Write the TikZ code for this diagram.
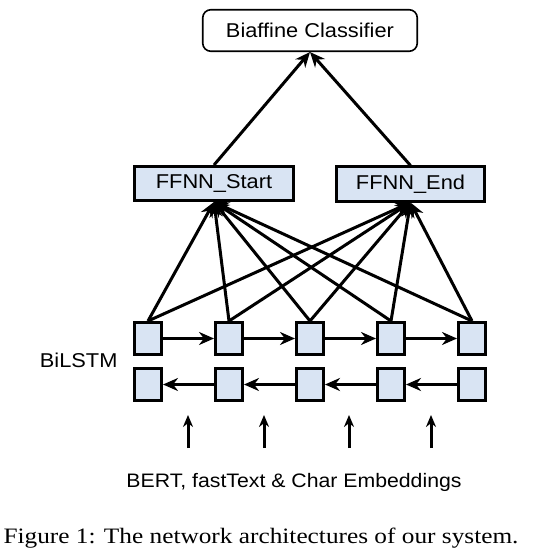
\documentclass[tikz,border=0pt]{standalone}
\usepackage{fontspec}
\setmainfont{Liberation Sans}[FakeStretch=1.09]
\newfontfamily\captionserif{Liberation Serif}[FakeStretch=1.15]
\usetikzlibrary{arrows.meta}
\definecolor{cellblue}{RGB}{217,228,243}

\begin{document}
\begin{tikzpicture}[x=1pt,y=-1pt,
  font=\fontsize{20}{24}\selectfont,
  cell/.style={draw, line width=3pt, fill=cellblue, minimum width=27pt, minimum height=32pt, inner sep=0pt},
  ffnn/.style={draw, line width=3pt, fill=cellblue, minimum height=34pt, inner sep=0pt},
  arr/.style={line width=3pt, -{Stealth[length=15pt,width=13pt]}}]
\useasboundingbox (0,0) rectangle (540,553);
% classifier and the two feed-forward layers
\node[draw, line width=1.6pt, rounded corners=8pt, minimum width=214.5pt, minimum height=41.5pt] (biaffine) at (310,30.5) {Biaffine Classifier};
\node[ffnn, minimum width=159pt] (start) at (214,183.5) {FFNN\_Start};
\node[ffnn, minimum width=148pt] (end) at (410.5,184) {FFNN\_End};
\draw[arr] (start.north) -- (biaffine.south);
\draw[arr] (end.north) -- (biaffine.south);
% BiLSTM cells
\foreach \i/\x in {1/148,2/229,3/310,4/391,5/472} {
  \node[cell] (fw\i) at (\x,338.5) {};
  \node[cell] (bw\i) at (\x,384.5) {};
}
\node[anchor=base east] (bilstm) at (121,367) {BiLSTM};
% recurrent connections
\foreach \i/\j in {1/2,2/3,3/4,4/5} {
  \draw[arr] (fw\i.east) -- (fw\j.west);
  \draw[arr] (bw\j.west) -- (bw\i.east);
}
% every forward cell feeds both layers
\foreach \i in {1,...,5} {
  \draw[arr] (fw\i.north) -- (start.south);
  \draw[arr] (fw\i.north) -- (end.south);
}
% inputs
\node[anchor=base, font=\fontsize{19.5}{24}\selectfont] (embed) at (294,487) {BERT, fastText \& Char Embeddings};
\foreach \k/\x in {1/188,2/264,3/349,4/431} {
  \coordinate (in\k) at (\x,448);
  \coordinate (to\k) at (\x,415);
  \draw[arr, -{Stealth[length=12pt,width=10pt]}] (in\k) -- (to\k);
}
\node[anchor=base, font=\captionserif\fontsize{22}{26}\selectfont] (caption) at (261,543) {Figure 1: The network architectures of our system.};
\end{tikzpicture}
\end{document}
